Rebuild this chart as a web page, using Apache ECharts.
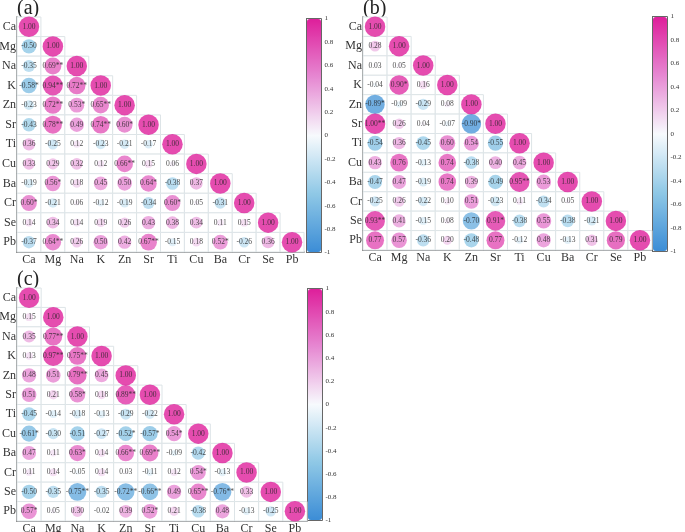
<!DOCTYPE html>
<html><head><meta charset="utf-8">
<script src="https://cdn.jsdelivr.net/npm/echarts@6/dist/echarts.min.js"></script>
<style>html,body{margin:0;padding:0;background:#fff}#c{width:685px;height:532px}</style>
</head><body><div id="c"></div>
<script>
const elements = ['Ca','Mg','Na','K','Zn','Sr','Ti','Cu','Ba','Cr','Se','Pb'];
const colorTicks = [-1,-0.8,-0.6,-0.4,-0.2,0,0.2,0.4,0.6,0.8,1];
const corrA = [
 ['1.00'],
 ['-0.50','1.00'],
 ['-0.35','0.69**','1.00'],
 ['-0.58*','0.94**','0.72**','1.00'],
 ['-0.23','0.72**','0.53*','0.65**','1.00'],
 ['-0.43','0.78**','0.49','0.74**','0.60*','1.00'],
 ['0.36','-0.25','0.12','-0.23','-0.21','-0.17','1.00'],
 ['0.33','0.29','0.32','0.12','0.66**','0.15','0.06','1.00'],
 ['-0.19','0.56*','0.18','0.45','0.50','0.64*','-0.38','0.37','1.00'],
 ['0.60*','-0.21','0.06','-0.12','-0.19','-0.34','0.60*','0.05','-0.31','1.00'],
 ['0.14','0.34','0.14','0.19','0.26','0.43','0.38','0.34','0.11','0.15','1.00'],
 ['-0.37','0.64**','0.26','0.50','0.42','0.67**','-0.15','0.18','0.52*','-0.26','0.36','1.00']
];
const corrB = [
 ['1.00'],
 ['0.28','1.00'],
 ['0.03','0.05','1.00'],
 ['-0.04','0.90*','0.16','1.00'],
 ['-0.89*','-0.09','-0.29','0.08','1.00'],
 ['1.00**','0.26','0.04','-0.07','-0.90*','1.00'],
 ['-0.54','0.36','-0.45','0.60','0.54','-0.55','1.00'],
 ['0.43','0.76','-0.13','0.74','-0.38','0.40','0.45','1.00'],
 ['-0.47','0.47','-0.19','0.74','0.39','-0.49','0.95**','0.53','1.00'],
 ['-0.25','0.26','-0.22','0.10','0.51','-0.23','0.11','-0.34','0.05','1.00'],
 ['0.93**','0.41','-0.15','0.08','-0.70','0.91*','-0.38','0.55','-0.38','-0.21','1.00'],
 ['0.77','0.57','-0.36','0.20','-0.48','0.77','-0.12','0.48','-0.13','0.31','0.79','1.00']
];
const corrC = [
 ['1.00'],
 ['0.15','1.00'],
 ['0.35','0.77**','1.00'],
 ['0.13','0.97**','0.75**','1.00'],
 ['0.48','0.51','0.79**','0.45','1.00'],
 ['0.51','0.21','0.58*','0.18','0.89**','1.00'],
 ['-0.45','-0.14','-0.18','-0.13','-0.29','-0.22','1.00'],
 ['-0.61*','-0.30','-0.51','-0.27','-0.52*','-0.57*','0.54*','1.00'],
 ['0.47','0.11','0.63*','0.14','0.66**','0.69**','-0.09','-0.42','1.00'],
 ['0.11','0.14','-0.05','0.14','0.03','-0.11','0.12','0.54*','-0.13','1.00'],
 ['-0.50','-0.35','-0.75**','-0.35','-0.72**','-0.66**','0.49','0.65**','-0.76**','0.33','1.00'],
 ['0.57*','0.05','0.30','-0.02','0.39','0.52*','0.21','-0.38','0.48','-0.13','-0.25','1.00']
];
const panelNames = ['(a)','(b)','(c)'];

const SERIF = '"Liberation Serif","Times New Roman",serif';
const panels = [
  {rows: corrA, grid:{left:17, top:17, width:287, height:235}, bar:{left:307, top:19, w:14, h:233}, title:{left:17, top:-1}},
  {rows: corrB, grid:{left:363, top:17, width:289, height:233}, bar:{left:653, top:17, w:14, h:234}, title:{left:363, top:-1}},
  {rows: corrC, grid:{left:17, top:288, width:290, height:233}, bar:{left:308, top:289, w:14, h:231}, title:{left:17, top:270}}
];
const colors = ['#3c8dd6','#8fc8e6','#f7fafd','#e688d2','#de1f9b'];

const grid=[], xAxis=[], yAxis=[], series=[], visualMap=[], graphic=[];
panels.forEach((p, k) => {
  const cells=[], pts=[];
  p.rows.forEach((row,i)=>row.forEach((s,j)=>{
    cells.push([j,i]);
    pts.push({value:[j,i,parseFloat(s)], txt:s});
  }));
  const g0 = grid.length;
  grid.push({left:p.grid.left, top:p.grid.top, width:p.grid.width, height:p.grid.height, containLabel:false, outerBoundsMode:'none'});
  xAxis.push({type:'category', gridIndex:g0, data:elements, boundaryGap:true,
    axisLine:{show:true, lineStyle:{color:'#555', width:1.5}}, axisTick:{show:false},
    axisLabel:{fontFamily:SERIF, fontSize:12, color:'#333', margin:2, interval:0}, splitLine:{show:false}});
  yAxis.push({type:'category', gridIndex:g0, data:elements, inverse:true, boundaryGap:true,
    axisLine:{show:true, lineStyle:{color:'#555', width:1.5}}, axisTick:{show:false},
    axisLabel:{fontFamily:SERIF, fontSize:12, color:'#333', margin:1, interval:0}, splitLine:{show:false}});
  series.push({type:'custom', xAxisIndex:g0, yAxisIndex:g0, data:cells, silent:true, z:1,
    renderItem:(params, api)=>{
      const c = api.coord([api.value(0), api.value(1)]);
      const sz = api.size([1,1]);
      return {type:'rect', shape:{x:c[0]-sz[0]/2, y:c[1]-sz[1]/2, width:sz[0], height:sz[1]},
        style:{fill:'#fff', stroke:'#dde4e7', lineWidth:1}};
    }});
  const sIdx = series.length;
  series.push({type:'scatter', xAxisIndex:g0, yAxisIndex:g0, data:pts, z:3, silent:true,
    symbol:'circle', symbolSize:(v)=>20.5*Math.sqrt(Math.abs(v[2])),
    label:{show:true, position:'inside', formatter:(pa)=>pa.data.txt, fontFamily:SERIF, fontSize:7.5, color:'#222'},
    emphasis:{disabled:true}});
  visualMap.push({type:'continuous', seriesIndex:sIdx, dimension:2, min:-1, max:1, calculable:false,
    orient:'vertical', left:p.bar.left, top:p.bar.top, itemWidth:p.bar.w, itemHeight:p.bar.h, padding:0,
    hoverLink:false, inRange:{color:colors}, text:null, showLabel:false});
  const gi = grid.length;
  grid.push({left:p.bar.left-0.5, top:p.bar.top-0.5, width:p.bar.w+1, height:p.bar.h+1, show:true, borderColor:'#666', borderWidth:1, backgroundColor:'transparent', containLabel:false, outerBoundsMode:'none'});
  xAxis.push({type:'value', gridIndex:gi, show:false, min:0, max:1});
  yAxis.push({type:'value', gridIndex:gi, position:'right', min:colorTicks[0], max:colorTicks[colorTicks.length-1], interval:0.2,
    axisLine:{show:true, lineStyle:{color:'#666'}}, axisTick:{show:true, length:3, lineStyle:{color:'#666'}},
    splitLine:{show:false}, axisLabel:{fontFamily:SERIF, fontSize:7, color:'#333', margin:3}});
  graphic.push({type:'text', left:p.title.left, top:p.title.top, style:{text:panelNames[k], font:'20px '+SERIF, fill:'#222'}});
});

const chart = echarts.init(document.getElementById('c'));
chart.setOption({animation:false, backgroundColor:'#fff', grid, xAxis, yAxis, series, visualMap, graphic});
</script></body></html>
